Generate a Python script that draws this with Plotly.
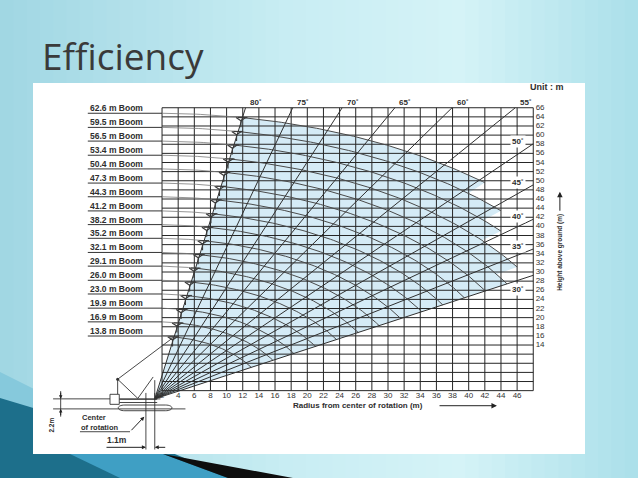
import numpy as np
import plotly.graph_objects as go

# ---- values ----
boom_lengths = [62.6, 59.5, 56.5, 53.4, 50.4, 47.3, 44.3, 41.2, 38.2,
                35.2, 32.1, 29.1, 26.0, 23.0, 19.9, 16.9, 13.8]
radius_limits = [42, 44, 44, 46]          # max working radius of the longest booms, the rest go down to 30 deg
top_angles = [80, 75, 70, 65, 60, 55]
side_angles = [50, 45, 40, 35, 30]
radius_ticks = [2, 4, 6, 8, 10, 12, 14, 16, 18, 20, 22, 24, 26, 28, 30,
                32, 34, 36, 38, 40, 42, 44, 46]
height_ticks = [14, 16, 18, 20, 22, 24, 26, 28, 30, 32, 34, 36, 38, 40,
                42, 44, 46, 48, 50, 52, 54, 56, 58, 60, 62, 64, 66]
grid_radius = radius_ticks + [48]
grid_height = [4, 6, 8, 10, 12] + height_ticks
foot_radius = 1.1    # boom foot from center of rotation (m)
foot_height = 2.2    # boom foot above ground (m)
angle_min, angle_max = 30, 80

# page / scale
W, H = 638, 478
X0, XS = 145.9, 8.07
Y0, YS = 408.9, 4.563
x_range = [-X0 / XS, (W - X0) / XS]
y_range = [(Y0 - H) / YS, Y0 / YS]
R_MIN, R_MAX = grid_radius[0], grid_radius[-1]
H_MIN, H_MAX = grid_height[0], grid_height[-1]
LABEL_X = -7.2

FONT = "Liberation Sans, Arial, sans-serif"
INK = "#2e2e2e"


def tip(L, a):
    t = np.radians(a)
    return foot_radius + L * np.cos(t), foot_height + L * np.sin(t)


def end_angle(i, L):
    if i < len(radius_limits):
        return np.degrees(np.arccos((radius_limits[i] - foot_radius) / L))
    return angle_min


fig = go.Figure()

# working range shading
sx, sy = [foot_radius], [foot_height]
a_prev = angle_max
for i, L in enumerate(boom_lengths):
    a_end = end_angle(i, L)
    x, y = tip(L, np.linspace(a_prev, a_end, 60))
    sx += list(x)
    sy += list(y)
    a_prev = a_end
    if a_end <= angle_min:
        break
sx.append(foot_radius)
sy.append(foot_height)
fig.add_trace(go.Scatter(x=sx, y=sy, fill="toself", fillcolor="#d5ebf6",
                         mode="lines", line=dict(width=0), hoverinfo="skip"))

# grid
gx, gy = [], []
for r in grid_radius:
    gx += [r, r, None]
    gy += [H_MIN, H_MAX, None]
for h in grid_height:
    gx += [R_MIN, R_MAX, None]
    gy += [h, h, None]
fig.add_trace(go.Scatter(x=gx, y=gy, mode="lines",
                         line=dict(color="#262626", width=1), hoverinfo="skip"))

# boom arcs
lx, ly, ux, uy, mx, my, label_y = [], [], [], [], [], [], []
for i, L in enumerate(boom_lengths):
    a0 = np.degrees(np.arccos((R_MIN - foot_radius) / L))
    x, y = tip(L, np.linspace(a0, angle_max, 20))
    lx += list(x) + [None]
    ly += list(y) + [None]
    ux += [LABEL_X, R_MIN, None]
    uy += [y[0], y[0], None]
    label_y.append(y[0])
    x, y = tip(L, np.linspace(angle_max, end_angle(i, L), 90))
    mx += list(x) + [None]
    my += list(y) + [None]
fig.add_trace(go.Scatter(x=lx, y=ly, mode="lines",
                         line=dict(color="#7a7a7a", width=0.8), hoverinfo="skip"))
fig.add_trace(go.Scatter(x=ux, y=uy, mode="lines",
                         line=dict(color="#333333", width=1), hoverinfo="skip"))
fig.add_trace(go.Scatter(x=mx, y=my, mode="lines",
                         line=dict(color="#4a4a4a", width=1), hoverinfo="skip"))

# boom angle lines
ax_, ay_, ends = [], [], {}
for a in top_angles + side_angles:
    t = np.radians(a)
    s = min((H_MAX - foot_height) / np.sin(t), (R_MAX - foot_radius) / np.cos(t))
    x1, y1 = tip(s, a)
    ends[a] = (x1, y1)
    ax_ += [foot_radius, x1, None]
    ay_ += [foot_height, y1, None]
fig.add_trace(go.Scatter(x=ax_, y=ay_, mode="lines",
                         line=dict(color="#303030", width=1), hoverinfo="skip"))

# hook blocks at the boom tips
tx, ty = tip(np.array(boom_lengths), angle_max)
fig.add_trace(go.Scatter(x=tx - 0.2, y=ty - 0.7, mode="markers", hoverinfo="skip",
                         marker=dict(symbol="y-down-open", size=8, color="#3a3a3a",
                                     line=dict(color="#3a3a3a", width=1.2))))
fig.add_trace(go.Scatter(x=tx, y=ty, mode="markers", hoverinfo="skip",
                         marker=dict(symbol="line-ew-open", size=7, color="#3a3a3a",
                                     line=dict(color="#3a3a3a", width=1.2))))

# tick labels
fig.add_trace(go.Scatter(x=radius_ticks, y=[2.8] * len(radius_ticks), mode="text",
                         text=[str(v) for v in radius_ticks], textposition="middle center",
                         textfont=dict(family=FONT, size=8, color="#333"), hoverinfo="skip"))
fig.add_trace(go.Scatter(x=[R_MAX + 0.3] * len(height_ticks), y=height_ticks, mode="text",
                         text=[str(v) for v in height_ticks], textposition="middle right",
                         textfont=dict(family=FONT, size=8, color="#333"), hoverinfo="skip"))

# crane sketch
cx, cy = [], []
segs = [
    [(-3.3, 2.1), (1.4, 2.1)], [(-3.3, 1.4), (1.4, 1.4)],
    [(-3.5, 3.2), (-3.5, 6.5)],
    [(-3.5, 6.5), (tx[-1], ty[-1])],
    [(-3.5, 6.5), (-1.0, 2.3), (0.9, 7.0)],
    [(1.1, 6.3), (1.1, 2.0)],
    [(-11.5, foot_height), (1.8, foot_height)],
    [(-11.5, 0), (4.9, 0)],
    [(0, 3.5), (0, -8.9)], [(foot_radius, 3.5), (foot_radius, -8.9)],
    [(-10.56, 3.9), (-10.56, -1.7)],
    [(-8.17, -5.0), (-1.97, -5.0)],
]
for seg in segs:
    for p in seg:
        cx.append(p[0])
        cy.append(p[1])
    cx.append(None)
    cy.append(None)
fig.add_trace(go.Scatter(x=cx, y=cy, mode="lines",
                         line=dict(color="#333", width=0.9), hoverinfo="skip"))
fig.add_trace(go.Scatter(x=[-3.5], y=[6.5], mode="markers", hoverinfo="skip",
                         marker=dict(size=3, color="#333")))

# counterweight and crawler
fig.add_shape(type="rect", x0=-4.45, x1=-3.3, y0=1.0, y1=3.2,
              line=dict(color="#333", width=0.9), fillcolor="white")
fig.add_shape(type="path",
              path="M -2.6,0.85 L 2.4,0.85 C 3.5,0.85 3.5,-0.4 2.4,-0.4 "
                   "L -2.6,-0.4 C -3.7,-0.4 -3.7,0.85 -2.6,0.85 Z",
              line=dict(color="#333", width=0.9))

# slide background and decoration
shapes = []
stops = [(0.0, (160, 214, 227)), (0.45, (200, 237, 243)), (0.72, (213, 243, 247)),
         (1.0, (170, 223, 234))]
n = 48
for k in range(n):
    t = (k + 0.5) / n
    for j in range(len(stops) - 1):
        if stops[j][0] <= t <= stops[j + 1][0]:
            f = (t - stops[j][0]) / (stops[j + 1][0] - stops[j][0])
            c = [round(stops[j][1][m] + f * (stops[j + 1][1][m] - stops[j][1][m])) for m in range(3)]
    shapes.append(dict(type="rect", xref="paper", yref="paper", x0=k / n, x1=(k + 1) / n + 0.003,
                       y0=0, y1=1, fillcolor="rgb(%d,%d,%d)" % tuple(c), line_width=0, layer="below"))


def ppath(pts):
    return "M " + " L ".join("%.4f,%.4f" % (px / W, 1 - py / H) for px, py in pts) + " Z"


for pts, col in [
    ([(0, 372), (40, 392), (40, 412), (0, 400)], "#86c9dc"),
    ([(0, 398), (100, 428), (170, 452), (232, 478), (0, 478)], "#1d6f8b"),
    ([(70, 454), (163, 454), (228, 478), (120, 478)], "#3f9fc4"),
    ([(163, 454), (293, 478), (228, 478)], "#0e0e0e"),
]:
    shapes.append(dict(type="path", xref="paper", yref="paper", path=ppath(pts),
                       fillcolor=col, line_width=0, layer="below"))
shapes.append(dict(type="rect", xref="paper", yref="paper", x0=33 / W, x1=585 / W,
                   y0=1 - 454 / H, y1=1 - 83 / H, fillcolor="white", line_width=0, layer="below"))
for s in shapes:
    fig.add_shape(**s)


# texts
def note(x, y, text, size=8, bold=True, **kw):
    fig.add_annotation(x=x, y=y, text=text, showarrow=False,
                       font=dict(family=FONT, size=size, color=INK,
                                 weight="bold" if bold else "normal"), **kw)


for L, y in zip(boom_lengths, label_y):
    note(LABEL_X, y, "%.1f m Boom" % L, size=8.5, xanchor="left", yanchor="bottom", yshift=-2)

for a in top_angles:
    note(ends[a][0] + 1.3, H_MAX + 1.2, "%d˚" % a, size=8)

for a in side_angles:
    off = -3.1 if a == angle_min else 0.6
    note(46.1, ends[a][1] + off, "%d˚" % a, size=8, bgcolor="white", borderpad=1)

note(49.7, 70.6, "Unit : m", size=9)
note(26.3, 0.7, "Radius from center of rotation (m)", size=8)
note(51.3, 34.4, "Height above ground (m)", size=6.5, textangle=-90)
note(-11.67, -3.5, "2.2m", size=6.5, textangle=-90)
note(-8.0, -3.2, "Center", size=7.5, xanchor="left", yanchor="bottom", yshift=1, borderpad=0)
note(-8.2, -5.0, "of rotation", size=7.5, xanchor="left", yanchor="bottom", yshift=-1, borderpad=0)
note(-3.62, -8.42, "1.1m", size=8.5, yanchor="bottom")

arrows = [
    ((36.2, 0.7), (43.5, 0.7), 1.1),
    ((51.3, 43.1), (51.3, 47.6), 1.1),
    ((-5.07, -8.42), (0, -8.42), 0.8),
    ((2.58, -8.42), (foot_radius, -8.42), 0.8),
    ((-10.56, 3.9), (-10.56, foot_height), 0.7),
    ((-10.56, -1.7), (-10.56, 0), 0.7),
    ((-1.97, -5.0), (-0.2, -1.7), 0.8),
]
for (x0, y0), (x1, y1), sz in arrows:
    fig.add_annotation(x=x1, y=y1, ax=x0, ay=y0, xref="x", yref="y", axref="x", ayref="y",
                       text="", showarrow=True, arrowhead=2, arrowsize=sz,
                       arrowwidth=1, arrowcolor="#222")

fig.add_annotation(x=40 / W, y=1 - 56 / H, xref="paper", yref="paper", xanchor="left",
                   yanchor="middle", showarrow=False, text="Efficiency",
                   font=dict(family="Open Sans, sans-serif", size=37, color="#3a3a3a"))

fig.update_layout(
    width=W, height=H, margin=dict(l=0, r=0, t=0, b=0),
    paper_bgcolor="#c4ebf2", plot_bgcolor="rgba(0,0,0,0)",
    showlegend=False,
    xaxis=dict(range=x_range, visible=False, fixedrange=True),
    yaxis=dict(range=y_range, visible=False, fixedrange=True),
)

fig.write_html("out.html", config={"displayModeBar": False},
               post_script="document.body.style.margin='0px';")
